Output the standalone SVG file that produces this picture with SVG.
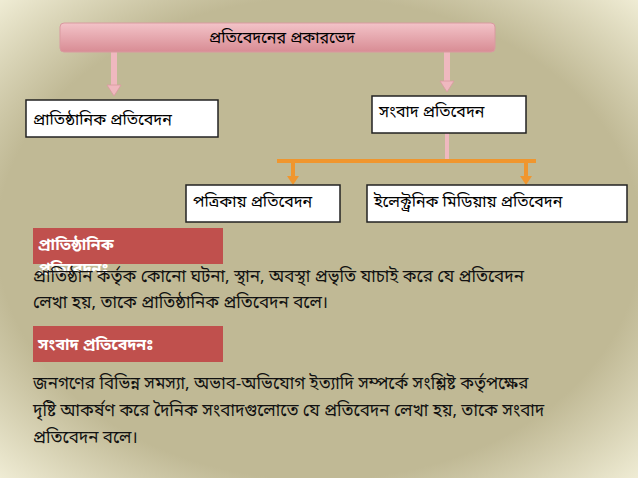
<svg xmlns="http://www.w3.org/2000/svg" width="638" height="478" viewBox="0 0 638 478">
<defs>
<radialGradient id="bg" cx="50%" cy="50%" r="72%">
<stop offset="0.7" stop-color="#c0b995"/><stop offset="1" stop-color="#f2efd8"/>
</radialGradient>
<linearGradient id="pk" x1="0" y1="0" x2="0" y2="1">
<stop offset="0" stop-color="#f3c3c8"/><stop offset="1" stop-color="#d88c94"/>
</linearGradient>
<style>
text{font-family:"Noto Sans Bengali","Noto Sans","Noto Sans CJK SC",sans-serif;}
.box{fill:#fff;stroke:#222;stroke-width:1.5}
.t{font-size:16px;fill:#000}
.p{font-size:17px;fill:#111}
.h{font-size:16px;fill:#fff;font-weight:bold}
.ph{fill:#efb8bf;stroke:#d99aa0;stroke-width:0.8}
.oh{fill:#f0962e}
</style>
</defs>
<rect width="638" height="478" fill="url(#bg)"/>
<g id="connectors">
<line x1="114" y1="52" x2="114" y2="86" stroke="#efb8bf" stroke-width="6"/>
<polygon points="107,85 121,85 114,96" class="ph"/>
<line x1="447" y1="52" x2="447" y2="82" stroke="#efb8bf" stroke-width="6"/>
<polygon points="440,81 454,81 447,92" class="ph"/>
<line x1="447" y1="133" x2="447" y2="160" stroke="#efb8bf" stroke-width="4"/>
<line x1="277" y1="161" x2="536" y2="161" stroke="#f0962e" stroke-width="4"/>
<line x1="293" y1="162" x2="293" y2="177" stroke="#f0962e" stroke-width="4"/>
<polygon points="287,176 299,176 293,185" class="oh"/>
<line x1="526" y1="162" x2="526" y2="177" stroke="#f0962e" stroke-width="4"/>
<polygon points="520,176 532,176 526,185" class="oh"/>
</g>
<g id="root"><rect x="60" y="23" width="435" height="29" rx="4" fill="url(#pk)" stroke="#d99aa0"/>
<text x="282" y="43" class="t" text-anchor="middle">প্রতিবেদনের প্রকারভেদ</text></g>
<g id="n1"><rect x="26" y="100" width="192" height="37" class="box"/><text x="33" y="125" class="t">প্রাতিষ্ঠানিক প্রতিবেদন</text></g>
<g id="n2"><rect x="372" y="96" width="154" height="37" class="box"/><text x="379" y="117" class="t">সংবাদ প্রতিবেদন</text></g>
<g id="n3"><rect x="186" y="185" width="154" height="37" class="box"/><text x="193" y="207" class="t">পত্রিকায় প্রতিবেদন</text></g>
<g id="n4"><rect x="367" y="185" width="260" height="37" class="box"/><text x="374" y="207" class="t">ইলেক্ট্রনিক মিডিয়ায় প্রতিবেদন</text></g>
<rect x="33" y="228" width="190" height="36" fill="#c0504d"/>
<text x="38" y="250" class="h">প্রাতিষ্ঠানিক</text>
<text x="38" y="274" class="h">প্রতিবেদনঃ</text>
<text x="33" y="282" class="p">প্রাতিষ্ঠান কর্তৃক কোনো ঘটনা, স্থান, অবস্থা প্রভৃতি যাচাই করে যে প্রতিবেদন</text>
<text x="33" y="308" class="p">লেখা হয়, তাকে প্রাতিষ্ঠানিক প্রতিবেদন বলে।</text>
<rect x="33" y="326" width="190" height="36" fill="#c0504d"/>
<text x="38" y="350" class="h">সংবাদ প্রতিবেদনঃ</text>
<text x="33" y="389" class="p">জনগণের বিভিন্ন সমস্যা, অভাব-অভিযোগ ইত্যাদি সম্পর্কে সংশ্লিষ্ট কর্তৃপক্ষের</text>
<text x="33" y="416" class="p">দৃষ্টি আকর্ষণ করে দৈনিক সংবাদগুলোতে যে প্রতিবেদন লেখা হয়, তাকে সংবাদ</text>
<text x="33" y="443" class="p">প্রতিবেদন বলে।</text>
</svg>
